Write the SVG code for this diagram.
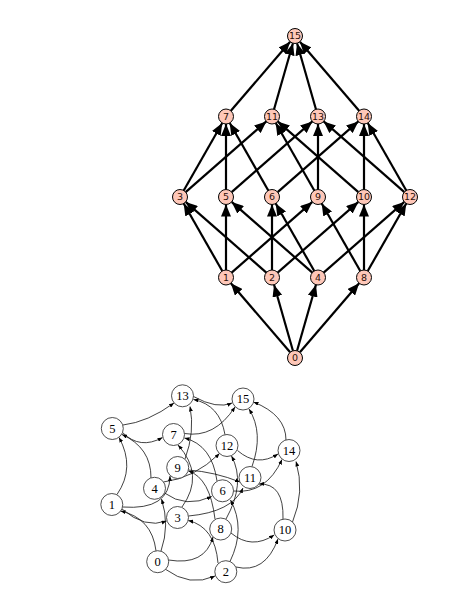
<svg xmlns="http://www.w3.org/2000/svg" width="474" height="594" viewBox="0 0 474 594">
<style>
.te{stroke:#000;stroke-width:2.2;fill:none;marker-end:url(#ah)}
.tn circle{fill:#fec7b8;stroke:#000;stroke-width:1}
.tn text{font-family:"DejaVu Sans",sans-serif;font-size:9.5px;fill:#2b0f08;text-anchor:middle}
.be{stroke:#111;stroke-width:0.8;fill:none;marker-end:url(#bh)}
.bn circle{fill:#fff;stroke:#222;stroke-width:0.8}
.bn text{font-family:"Liberation Serif","DejaVu Serif",serif;font-size:12.5px;fill:#000;text-anchor:middle}
</style>
<defs>
<marker id="ah" markerUnits="userSpaceOnUse" viewBox="0 0 12 10" markerWidth="12" markerHeight="10" refX="12" refY="5" orient="auto"><path d="M0,0 L12,5 L0,10 z" fill="#000"/></marker>
<marker id="bh" markerUnits="userSpaceOnUse" viewBox="0 0 5 4" markerWidth="5" markerHeight="4" refX="5" refY="2" orient="auto"><path d="M0,0 L5,2 L0,4 z" fill="#000"/></marker>
</defs>
<rect width="474" height="594" fill="#fff"/>
<g id="top-edges">
<line class="te" x1="290.12" y1="352.31" x2="230.88" y2="283.19"/>
<line class="te" x1="292.94" y1="350.79" x2="274.06" y2="284.71"/>
<line class="te" x1="297.06" y1="350.79" x2="315.94" y2="284.71"/>
<line class="te" x1="299.88" y1="352.31" x2="359.12" y2="283.19"/>
<line class="te" x1="222.28" y1="270.99" x2="183.72" y2="203.51"/>
<line class="te" x1="226" y1="270" x2="226" y2="204.5"/>
<line class="te" x1="231.64" y1="272.56" x2="312.36" y2="201.94"/>
<line class="te" x1="266.36" y1="272.56" x2="185.64" y2="201.94"/>
<line class="te" x1="272" y1="270" x2="272" y2="204.5"/>
<line class="te" x1="277.64" y1="272.56" x2="358.36" y2="201.94"/>
<line class="te" x1="312.36" y1="272.56" x2="231.64" y2="201.94"/>
<line class="te" x1="314.28" y1="270.99" x2="275.72" y2="203.51"/>
<line class="te" x1="323.64" y1="272.56" x2="404.36" y2="201.94"/>
<line class="te" x1="360.28" y1="270.99" x2="321.72" y2="203.51"/>
<line class="te" x1="364" y1="270" x2="364" y2="204.5"/>
<line class="te" x1="367.72" y1="270.99" x2="406.28" y2="203.51"/>
<line class="te" x1="183.72" y1="190.49" x2="222.28" y2="123.01"/>
<line class="te" x1="185.64" y1="192.06" x2="266.36" y2="121.44"/>
<line class="te" x1="226" y1="189.5" x2="226" y2="124"/>
<line class="te" x1="231.64" y1="192.06" x2="312.36" y2="121.44"/>
<line class="te" x1="268.28" y1="190.49" x2="229.72" y2="123.01"/>
<line class="te" x1="277.64" y1="192.06" x2="358.36" y2="121.44"/>
<line class="te" x1="314.28" y1="190.49" x2="275.72" y2="123.01"/>
<line class="te" x1="318" y1="189.5" x2="318" y2="124"/>
<line class="te" x1="358.36" y1="192.06" x2="277.64" y2="121.44"/>
<line class="te" x1="364" y1="189.5" x2="364" y2="124"/>
<line class="te" x1="404.36" y1="192.06" x2="323.64" y2="121.44"/>
<line class="te" x1="406.28" y1="190.49" x2="367.72" y2="123.01"/>
<line class="te" x1="230.88" y1="110.81" x2="290.12" y2="41.69"/>
<line class="te" x1="274.06" y1="109.29" x2="292.94" y2="43.21"/>
<line class="te" x1="315.94" y1="109.29" x2="297.06" y2="43.21"/>
<line class="te" x1="359.12" y1="110.81" x2="299.88" y2="41.69"/>
</g>
<g id="tn15" class="tn"><circle cx="295" cy="36" r="7.5"/><text x="295" y="39.4">15</text></g>
<g id="tn7" class="tn"><circle cx="226" cy="116.5" r="7.5"/><text x="226" y="119.9">7</text></g>
<g id="tn11" class="tn"><circle cx="272" cy="116.5" r="7.5"/><text x="272" y="119.9">11</text></g>
<g id="tn13" class="tn"><circle cx="318" cy="116.5" r="7.5"/><text x="318" y="119.9">13</text></g>
<g id="tn14" class="tn"><circle cx="364" cy="116.5" r="7.5"/><text x="364" y="119.9">14</text></g>
<g id="tn3" class="tn"><circle cx="180" cy="197" r="7.5"/><text x="180" y="200.4">3</text></g>
<g id="tn5" class="tn"><circle cx="226" cy="197" r="7.5"/><text x="226" y="200.4">5</text></g>
<g id="tn6" class="tn"><circle cx="272" cy="197" r="7.5"/><text x="272" y="200.4">6</text></g>
<g id="tn9" class="tn"><circle cx="318" cy="197" r="7.5"/><text x="318" y="200.4">9</text></g>
<g id="tn10" class="tn"><circle cx="364" cy="197" r="7.5"/><text x="364" y="200.4">10</text></g>
<g id="tn12" class="tn"><circle cx="410" cy="197" r="7.5"/><text x="410" y="200.4">12</text></g>
<g id="tn1" class="tn"><circle cx="226" cy="277.5" r="7.5"/><text x="226" y="280.9">1</text></g>
<g id="tn2" class="tn"><circle cx="272" cy="277.5" r="7.5"/><text x="272" y="280.9">2</text></g>
<g id="tn4" class="tn"><circle cx="318" cy="277.5" r="7.5"/><text x="318" y="280.9">4</text></g>
<g id="tn8" class="tn"><circle cx="364" cy="277.5" r="7.5"/><text x="364" y="280.9">8</text></g>
<g id="tn0" class="tn"><circle cx="295" cy="358" r="7.5"/><text x="295" y="361.4">0</text></g>

<g id="bottom-edges">
<path class="be" d="M156,550.8 Q152,518 120.5,511"/>
<path class="be" d="M122,509 Q145,529 166.5,521"/>
<path class="be" d="M161,551 Q170,525 161.5,499"/>
<path class="be" d="M165,569 Q190,587.5 215,576"/>
<path class="be" d="M168.5,560 Q205,566 213,537"/>
<path class="be" d="M117,494.5 Q135.5,467.5 119,437.5"/>
<path class="be" d="M122.5,507 Q169.8,510.5 170,476"/>
<path class="be" d="M218,563 Q215,527 188.3,520.5"/>
<path class="be" d="M230,561.5 Q246,528.5 230.5,500"/>
<path class="be" d="M236,567 Q265,574 278,539"/>
<path class="be" d="M151,478 Q151.2,447.8 122,434.5"/>
<path class="be" d="M164.5,493 Q185.9,508.6 211.7,496.5"/>
<path class="be" d="M163.5,482 Q194.5,478.2 219.5,453.5"/>
<path class="be" d="M215,519 Q210,478 188.5,471"/>
<path class="be" d="M231,533 Q251.5,550 274.2,535"/>
<path class="be" d="M226,519 Q246,483 231.5,456"/>
<path class="be" d="M182,507 Q205,475 178,445"/>
<path class="be" d="M188.5,516 Q232,512 243,488"/>
<path class="be" d="M122.5,432.5 Q140,450 162.5,437.5"/>
<path class="be" d="M123,425 Q148,422 174,403"/>
<path class="be" d="M217,481 Q212,445 184.5,438"/>
<path class="be" d="M233.5,491 Q266,494.5 282,459.5"/>
<path class="be" d="M188.5,470 Q215,472 240,482"/>
<path class="be" d="M185,459 Q195,432 190,406.5"/>
<path class="be" d="M283,519 Q284,483 259,484"/>
<path class="be" d="M292.5,522 Q305,492 296,461.5"/>
<path class="be" d="M225,434.7 Q220,405 193.5,399.5"/>
<path class="be" d="M237.5,450.5 Q257,467.5 278,454"/>
<path class="be" d="M184.5,433.5 Q214.5,438.5 235,407"/>
<path class="be" d="M252,466.5 Q264,433 249,409"/>
<path class="be" d="M193.5,396.5 Q217,409.5 232,403"/>
<path class="be" d="M286,440 Q286,415 253.5,402"/>
</g>
<g id="bn13" class="bn"><circle cx="182.5" cy="395.8" r="11"/><text x="182.5" y="400">13</text></g>
<g id="bn15" class="bn"><circle cx="243" cy="399" r="11"/><text x="243" y="403.2">15</text></g>
<g id="bn5" class="bn"><circle cx="112.3" cy="428.5" r="11"/><text x="112.3" y="432.7">5</text></g>
<g id="bn7" class="bn"><circle cx="173.5" cy="434.5" r="11"/><text x="173.5" y="438.7">7</text></g>
<g id="bn12" class="bn"><circle cx="227" cy="445.5" r="11"/><text x="227" y="449.7">12</text></g>
<g id="bn14" class="bn"><circle cx="289" cy="450.5" r="11"/><text x="289" y="454.7">14</text></g>
<g id="bn9" class="bn"><circle cx="177.7" cy="467.5" r="11"/><text x="177.7" y="471.7">9</text></g>
<g id="bn4" class="bn"><circle cx="154.5" cy="488.3" r="11"/><text x="154.5" y="492.5">4</text></g>
<g id="bn11" class="bn"><circle cx="250" cy="477.5" r="11"/><text x="250" y="481.7">11</text></g>
<g id="bn6" class="bn"><circle cx="222.5" cy="490.8" r="11"/><text x="222.5" y="495">6</text></g>
<g id="bn1" class="bn"><circle cx="111.8" cy="504.5" r="11"/><text x="111.8" y="508.7">1</text></g>
<g id="bn3" class="bn"><circle cx="177.5" cy="517.5" r="11"/><text x="177.5" y="521.7">3</text></g>
<g id="bn8" class="bn"><circle cx="220.7" cy="529" r="11"/><text x="220.7" y="533.2">8</text></g>
<g id="bn10" class="bn"><circle cx="285" cy="530" r="11"/><text x="285" y="534.2">10</text></g>
<g id="bn0" class="bn"><circle cx="157.7" cy="561.7" r="11"/><text x="157.7" y="565.9">0</text></g>
<g id="bn2" class="bn"><circle cx="225.8" cy="571.7" r="11"/><text x="225.8" y="575.9">2</text></g>
</svg>
